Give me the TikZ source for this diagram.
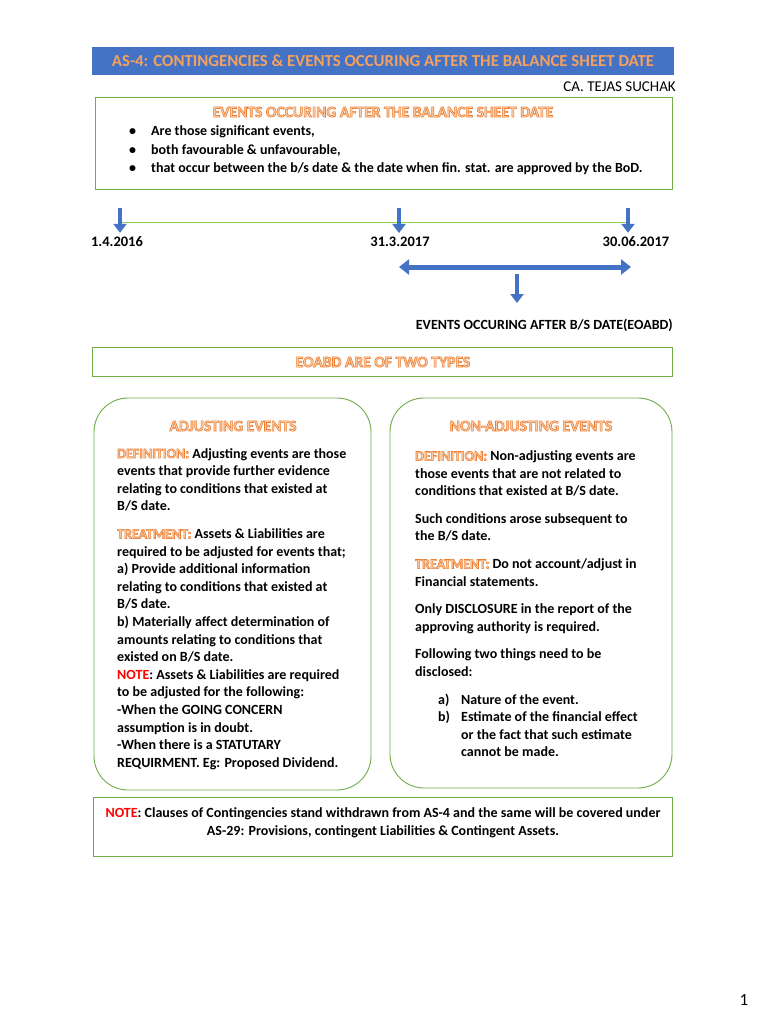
\documentclass[tikz,border=0pt]{standalone}
\usepackage{fontspec}
\setmainfont{Carlito}
\usepackage{xcolor}
\usetikzlibrary{arrows.meta,positioning}
\definecolor{titleblue}{HTML}{4472C4}
\definecolor{boxgreen}{HTML}{70AD47}
\definecolor{linegreen}{HTML}{92D050}
\definecolor{headorange}{HTML}{ED7D31}
\definecolor{titleorange}{HTML}{F4A15E}
\definecolor{notered}{HTML}{FF0000}
% outlined orange lettering (stroke orange, fill peach)
\newcommand{\outl}[1]{\special{pdf:literal direct 0.93 0.49 0.19 RG 0.98 0.80 0.66 rg 2 Tr 0.6 w}#1\special{pdf:literal direct 0 Tr}}
\newcommand{\hd}[1]{\textcolor{headorange}{\outl{#1}}}
\newcommand{\nt}[1]{\textcolor{notered}{#1}}

\begin{document}
\begin{tikzpicture}[x=1pt, y=-1pt,
  panel/.style={draw=boxgreen, line width=0.9pt, inner sep=0pt},
  roundpanel/.style={panel, rounded corners=34pt},
  body/.style={anchor=north west, inner sep=0pt, align=left, font=\fontsize{14}{17.6}\selectfont\bfseries},
  heading/.style={inner sep=0pt, font=\fontsize{15.6}{16}\selectfont\bfseries, text=headorange},
  datelbl/.style={inner sep=0pt, font=\fontsize{14.5}{16}\selectfont\bfseries},
  tickarr/.style={-{Triangle[length=9pt, width=13pt]}, line width=4.5pt, titleblue},
  spanarr/.style={{Triangle[length=10pt, width=15pt]}-{Triangle[length=10pt, width=15pt]}, line width=5pt, titleblue}
]
  \useasboundingbox[fill=white] (0,0) rectangle (768,1024);

  % title bar
  \node[fill=titleblue, minimum width=582, minimum height=28, inner sep=0pt,
        font=\fontsize{16.8}{18}\selectfont\bfseries, text=titleorange] (title) at (383,61)
        {AS-4: CONTINGENCIES \& EVENTS OCCURING AFTER THE BALANCE SHEET DATE};
  \node[anchor=east, inner sep=0pt, font=\fontsize{15}{16}\selectfont] (author) at (676,87) {CA. TEJAS SUCHAK};

  % what the events are
  \node[panel, minimum width=577, minimum height=92] (defbox) at (383.5,143) {};
  \node[heading] (defhead) at (383,112) {\hd{EVENTS OCCURING AFTER THE BALANCE SHEET DATE}};
  \node[body, font=\fontsize{14}{18.5}\selectfont\bfseries] (deftext) at (129,125.5) {%
    \makebox[22pt][l]{\textbullet}Are those significant events,\\
    \makebox[22pt][l]{\textbullet}both favourable \& unfavourable,\\
    \makebox[22pt][l]{\textbullet}that occur between the b/s date \& the date when fin. stat. are approved by the BoD.};

  % time line
  \draw[linegreen, line width=0.8pt] (120,222) -- (628,222);
  \node[datelbl] (d1) at (117,242) {1.4.2016};
  \node[datelbl] (d2) at (400,242) {31.3.2017};
  \node[datelbl] (d3) at (636,242) {30.06.2017};
  \coordinate (t1) at (120,208);
  \coordinate (t2) at (399,208);
  \coordinate (t3) at (628,208);
  \draw[tickarr, shorten >=4pt] (t1) -- (t1 |- d1.north);
  \draw[tickarr, shorten >=4pt] (t2) -- (t2 |- d2.north);
  \draw[tickarr, shorten >=4pt] (t3) -- (t3 |- d3.north);
  \coordinate (s1) at (399,267);
  \coordinate (s2) at (631,267);
  \draw[spanarr] (s1) -- (s2);
  \node[datelbl, anchor=east, font=\fontsize{14}{16}\selectfont\bfseries] (eoabd) at (673,325) {EVENTS OCCURING AFTER B/S DATE(EOABD)};
  \coordinate (drop) at (517,274);
  \coordinate (dropend) at (517,303);
  \draw[tickarr] (drop) -- (dropend);

  % two types
  \node[panel, minimum width=580, minimum height=29] (typebox) at (382,361.5) {};
  \node[heading] (typehead) at (383,362) {\hd{EOABD ARE OF TWO TYPES}};

  % adjusting events
  \node[roundpanel, minimum width=277, minimum height=392] (adjbox) at (232.5,594) {};
  \node[heading] (adjhead) at (233,426) {\hd{ADJUSTING EVENTS}};
  \node[body] (adjtext) at (117,448) {%
    \hd{DEFINITION:} Adjusting events are those\\
    events that provide further evidence\\
    relating to conditions that existed at\\
    B/S date.\\[10pt]
    \hd{TREATMENT:} Assets \& Liabilities are\\
    required to be adjusted for events that;\\
    a) Provide additional information\\
    relating to conditions that existed at\\
    B/S date.\\
    b) Materially affect determination of\\
    amounts relating to conditions that\\
    existed on B/S date.\\
    \nt{NOTE}: Assets \& Liabilities are required\\
    to be adjusted for the following:\\
    -When the GOING CONCERN\\
    assumption is in doubt.\\
    -When there is a STATUTARY\\
    REQUIRMENT. Eg: Proposed Dividend.};

  % non-adjusting events
  \node[roundpanel, minimum width=282, minimum height=390] (nonbox) at (531,593) {};
  \node[heading] (nonhead) at (531,426) {\hd{NON-ADJUSTING EVENTS}};
  \node[body] (nontext) at (415,450.5) {%
    \hd{DEFINITION:} Non-adjusting events are\\
    those events that are not related to\\
    conditions that existed at B/S date.\\[10pt]
    Such conditions arose subsequent to\\
    the B/S date.\\[10pt]
    \hd{TREATMENT:} Do not account/adjust in\\
    Financial statements.\\[10pt]
    Only DISCLOSURE in the report of the\\
    approving authority is required.\\[10pt]
    Following two things need to be\\
    disclosed:\\[10pt]
    \hspace*{23pt}\makebox[23pt][l]{a)}Nature of the event.\\
    \hspace*{23pt}\makebox[23pt][l]{b)}Estimate of the financial effect\\
    \hspace*{46pt}or the fact that such estimate\\
    \hspace*{46pt}cannot be made.};

  % closing note
  \node[panel, minimum width=579, minimum height=59] (notebox) at (382.5,826.5) {};
  \node[inner sep=0pt, align=center, font=\fontsize{14}{17.6}\selectfont\bfseries] (notetext) at (383,822.5)
    {\nt{NOTE}: Clauses of Contingencies stand withdrawn from AS-4 and the same will be covered under\\
     AS-29: Provisions, contingent Liabilities \& Contingent Assets.};

  \node[inner sep=0pt, font=\fontsize{17}{18}\selectfont] (pageno) at (744,1000) {1};
\end{tikzpicture}
\end{document}
